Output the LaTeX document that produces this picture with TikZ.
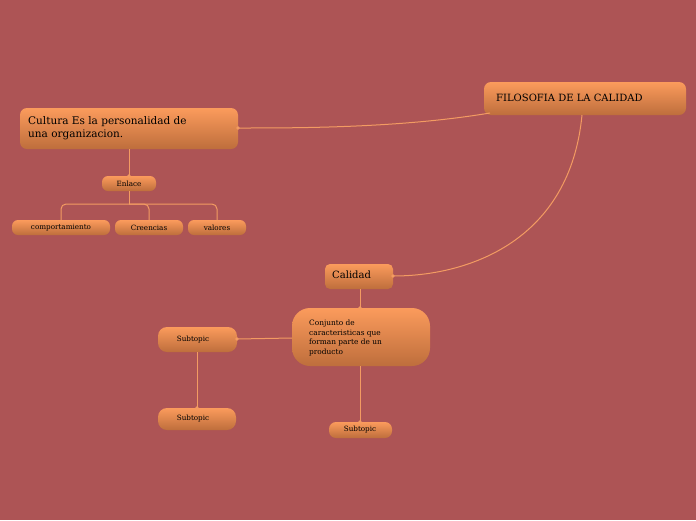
\documentclass[tikz,border=0pt]{standalone}
\usepackage{fontspec}
\setmainfont{DejaVu Serif}
\definecolor{bg}{HTML}{AD5455}
\definecolor{topc}{HTML}{FB9B5C}
\definecolor{botc}{HTML}{BE6E3C}
\definecolor{ln}{HTML}{F39B62}
\begin{document}
\begin{tikzpicture}[x=1pt,y=-1pt,
  box/.style={rounded corners=#1,top color=topc,bottom color=botc,draw=none},
  box/.default=7pt,
  conn/.style={draw=ln,line width=1pt},
  txt/.style={anchor=west,inner sep=0pt,text=black,align=left}]
\fill[bg] (0,0) rectangle (696,520);
\useasboundingbox (0,0) rectangle (696,520);
% boxes
\path[box] (484,82) rectangle (686,115); \node[txt,font=\fontsize{10}{12}\selectfont] (filo) at (496,98) {FILOSOFIA DE LA CALIDAD};
\path[box] (20,108) rectangle (238,149); \node[txt,font=\fontsize{10.5}{13}\selectfont] (cult) at (28,128) {Cultura Es la personalidad de\\una organizacion.};
\path[box=6pt] (102,176) rectangle (156,191); \node[font=\fontsize{7.2}{9}\selectfont,inner sep=0pt] (enl) at (129,183.5) {Enlace};
\path[box=6pt] (12,220) rectangle (110,235); \node[font=\fontsize{7.2}{9}\selectfont,inner sep=0pt] (comp) at (61,227.5) {comportamiento};
\path[box=6pt] (115,220) rectangle (183,235); \node[font=\fontsize{7.2}{9}\selectfont,inner sep=0pt] (cre) at (149,227.5) {Creencias};
\path[box=6pt] (188,220) rectangle (246,235); \node[font=\fontsize{7.2}{9}\selectfont,inner sep=0pt] (val) at (217,227.5) {valores};
\path[box=5pt] (325,264) rectangle (393,289); \node[txt,font=\fontsize{10}{12}\selectfont] (cal) at (332,275) {Calidad};
\path[box=18pt] (292,308) rectangle (430,366); \node[txt,font=\fontsize{7.4}{9.5}\selectfont] (conj) at (309,338) {Conjunto de\\caracteristicas que\\forman parte de un\\producto};
\path[box=9pt] (158,327) rectangle (237,352); \node[font=\fontsize{7.2}{9}\selectfont,inner sep=0pt] (s1) at (193,339.5) {Subtopic};
\path[box=9pt] (158,408) rectangle (236,430); \node[font=\fontsize{7.2}{9}\selectfont,inner sep=0pt] (s2) at (193,419) {Subtopic};
\path[box=7pt] (329,422) rectangle (392,438); \node[font=\fontsize{7.2}{9}\selectfont,inner sep=0pt] (s3) at (360,430) {Subtopic};
% connector anchors
\coordinate (fa) at (490,113); \coordinate (ca) at (238,128);
\coordinate (fb) at (582,115); \coordinate (cb) at (393,276);
\draw[conn] (fa) .. controls (400,128) and (300,128) .. (ca);
\draw[conn] (fb) .. controls (570,240) and (470,276) .. (cb);
\fill[ln] (ca) circle (1.8); \fill[ln] (cb) circle (1.8);
\coordinate (cu) at (129,149); \coordinate (et) at (129,176); \coordinate (eb) at (129,191);
\draw[conn] (cu) -- (et); \fill[ln] (et) circle (1.8);
\draw[conn] (eb) -- (129,204);
\draw[conn,rounded corners=5pt] (129,204) -| (61,220);
\draw[conn,rounded corners=5pt] (129,204) -| (149,220);
\draw[conn,rounded corners=5pt] (129,204) -| (217,220);
\coordinate (clb) at (360,289); \coordinate (cjt) at (360,308);
\draw[conn] (clb) -- (cjt); \fill[ln] (cjt) circle (1.8);
\coordinate (cjl) at (292,338); \coordinate (s1r) at (237,339);
\draw[conn] (cjl) -- (s1r); \fill[ln] (s1r) circle (1.8);
\coordinate (s1b) at (197,352); \coordinate (s2t) at (197,408);
\draw[conn] (s1b) -- (s2t); \fill[ln] (s2t) circle (1.8);
\coordinate (cjb) at (360,366); \coordinate (s3t) at (360,422);
\draw[conn] (cjb) -- (s3t); \fill[ln] (s3t) circle (1.8);
\end{tikzpicture}
\end{document}
